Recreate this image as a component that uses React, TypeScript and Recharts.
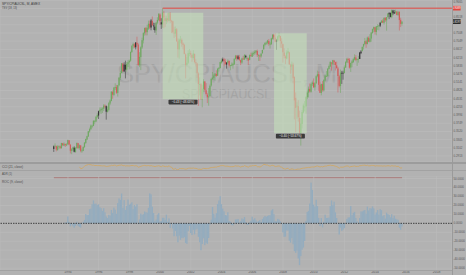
import React from 'react';
import {
  ComposedChart,
  Bar,
  Line,
  XAxis,
  YAxis,
  CartesianGrid,
  ReferenceArea,
  ReferenceLine,
} from 'recharts';

// ---------- data (monthly, first bar = Feb 1993; month index counted from Jan 1993) ----------
const FIRST_MONTH = 1;
const SPY_FIRST_OPEN = 44.0;

const spyClose = [
  44.9, 45.2, 44.0, 45.2, 45.3, 44.8, 46.6, 45.9, 46.6, 46.2, 46.6,
  48.2, 46.7, 44.6, 45.2, 45.9, 44.5, 46.1, 48.0, 46.2, 47.3, 45.4, 45.6,
  47.0, 48.7, 50.2, 51.5, 53.6, 54.6, 56.2, 56.2, 58.4, 58.4, 60.5, 61.5,
  63.6, 64.4, 65.1, 65.5, 67.2, 67.1, 64.3, 65.5, 69.0, 70.6, 75.8, 74.3,
  78.6, 79.1, 75.7, 80.3, 85.1, 88.4, 95.4, 90.0, 94.8, 91.5, 95.7, 97.0,
  98.3, 105.1, 110.3, 111.8, 109.5, 113.6, 112.2, 95.9, 102.2, 110.2, 116.6, 123.3,
  128.5, 124.5, 128.8, 133.8, 130.0, 137.3, 132.9, 132.4, 128.8, 136.8, 139.7, 146.9,
  139.6, 137.4, 150.4, 145.1, 142.0, 145.3, 143.0, 152.1, 143.6, 143.0, 131.5, 131.2,
  136.0, 124.0, 116.7, 125.9, 126.6, 122.9, 121.5, 113.4, 104.4, 106.0, 114.1, 114.3,
  113.0, 110.5, 114.5, 107.7, 106.6, 98.9, 91.2, 91.5, 81.5, 88.6, 93.9, 88.2,
  85.7, 84.1, 84.7, 91.6, 96.4, 97.6, 99.4, 101.4, 99.9, 105.4, 106.3, 111.3,
  113.1, 114.6, 113.1, 110.8, 112.5, 114.5, 110.5, 110.8, 111.7, 113.0, 117.8, 120.9,
  118.2, 120.6, 118.0, 115.8, 119.5, 119.2, 123.5, 122.2, 123.0, 120.9, 125.4, 124.5,
  128.0, 128.2, 129.8, 131.5, 127.5, 128.0, 127.8, 130.5, 133.6, 138.4, 140.5, 141.6,
  144.2, 140.9, 142.0, 148.3, 153.3, 150.4, 145.7, 147.6, 152.6, 154.6, 148.7, 146.2,
  137.4, 133.8, 131.9, 138.3, 140.4, 128.0, 126.8, 128.8, 116.0, 96.8, 89.6, 90.2,
  82.8, 73.9, 79.5, 87.1, 91.9, 91.9, 98.8, 102.5, 105.6, 103.6, 109.9, 111.4,
  107.4, 110.7, 117.0, 118.8, 109.4, 102.9, 110.3, 105.3, 114.1, 118.5, 118.5, 125.8,
  128.7, 133.2, 132.6, 136.5, 134.9, 131.9, 129.2, 121.9, 113.2, 125.5, 124.9, 125.5,
  131.3, 137.0, 140.8, 139.9, 131.5, 136.1, 138.0, 141.2, 144.0, 141.4, 141.9, 142.4,
  149.7, 151.6, 156.7, 159.7, 163.5, 160.4, 168.7, 163.7, 168.0, 175.8, 181.0, 184.7,
  178.2, 186.3, 187.0, 188.3, 192.7, 196.0, 193.1, 200.7, 197.0, 201.7, 207.2, 205.5,
  199.5, 210.7, 206.4, 208.5, 211.1, 205.9, 210.5, 197.7, 191.6, 195.0,
];

const spyHigh = [
  45.2, 46.0, 45.4, 45.6, 45.6, 45.6, 46.7, 46.7, 47.1, 46.8, 47.0,
  48.3, 48.3, 47.0, 45.6, 46.1, 46.4, 46.2, 48.1, 48.1, 47.6, 47.5, 46.3,
  47.2, 48.9, 50.3, 51.7, 53.7, 55.2, 56.6, 56.6, 58.8, 59.0, 60.9, 62.3,
  63.9, 65.6, 65.9, 66.2, 67.9, 67.9, 67.5, 67.1, 69.6, 71.2, 76.2, 76.7,
  79.0, 81.4, 80.4, 80.5, 85.6, 89.6, 95.6, 96.0, 96.6, 98.0, 97.1, 98.6,
  99.1, 105.5, 110.5, 113.1, 113.0, 114.0, 119.1, 113.3, 105.9, 111.1, 118.9, 124.2,
  129.0, 129.5, 131.9, 137.0, 137.2, 138.9, 142.1, 135.8, 136.2, 137.6, 142.6, 147.7,
  148.3, 144.0, 155.7, 152.3, 148.0, 148.3, 151.3, 152.5, 153.3, 144.6, 143.6, 137.4,
  138.6, 137.2, 126.8, 126.9, 130.1, 128.0, 123.9, 122.6, 114.3, 110.8, 116.7, 117.7,
  116.5, 113.2, 117.4, 115.0, 110.1, 107.2, 99.9, 96.3, 92.3, 91.3, 95.5, 94.3,
  93.2, 86.7, 90.4, 92.5, 97.3, 101.8, 101.0, 101.7, 104.3, 106.1, 106.5, 111.6,
  115.0, 116.0, 116.0, 115.3, 113.0, 115.8, 114.9, 111.2, 113.5, 114.0, 118.8, 121.6,
  121.0, 122.0, 122.5, 118.5, 120.3, 121.9, 124.4, 124.5, 124.4, 123.8, 126.1, 127.8,
  129.6, 129.9, 131.3, 132.2, 133.0, 128.6, 128.9, 131.0, 134.0, 139.0, 141.2, 143.0,
  144.8, 146.4, 143.7, 149.0, 153.8, 154.4, 155.5, 149.0, 153.5, 157.5, 155.0, 152.4,
  146.9, 142.0, 135.0, 140.6, 144.0, 141.0, 129.7, 131.8, 130.6, 116.4, 100.9, 92.6,
  94.5, 87.6, 83.0, 88.4, 93.3, 95.9, 99.5, 104.1, 107.4, 110.1, 111.3, 113.0,
  115.1, 111.6, 117.8, 122.1, 121.2, 112.2, 110.6, 113.0, 115.0, 119.5, 122.9, 126.1,
  130.3, 134.1, 133.9, 136.8, 137.2, 135.3, 135.7, 130.8, 123.2, 128.5, 127.4, 127.5,
  133.2, 138.0, 141.9, 142.2, 141.5, 136.6, 139.5, 142.8, 147.2, 146.7, 142.3, 145.6,
  150.4, 153.3, 157.2, 160.1, 167.5, 165.5, 170.0, 170.5, 173.6, 176.6, 181.8, 185.0,
  184.9, 186.6, 189.7, 189.0, 193.2, 196.6, 198.3, 201.0, 201.9, 202.2, 207.8, 209.0,
  206.5, 211.9, 211.9, 212.2, 213.8, 212.3, 212.4, 211.3, 200.8, 195.5,
];

const spyLow = [
  43.0, 44.6, 43.4, 43.7, 44.3, 44.4, 44.6, 45.6, 45.9, 45.6, 46.1,
  46.5, 46.4, 43.7, 43.5, 44.6, 44.3, 44.4, 45.9, 46.0, 45.6, 44.9, 44.8,
  45.5, 46.9, 48.3, 50.0, 51.3, 53.1, 54.4, 55.2, 56.1, 57.1, 58.1, 60.0,
  59.9, 62.7, 62.6, 63.3, 64.4, 65.9, 60.5, 64.0, 64.8, 68.2, 70.4, 72.0,
  73.6, 77.4, 75.1, 73.6, 79.7, 83.8, 88.4, 89.5, 89.8, 85.5, 90.0, 93.5,
  91.9, 97.5, 104.3, 108.0, 108.8, 107.7, 111.1, 95.3, 94.4, 92.5, 109.0, 113.9,
  121.2, 121.5, 121.5, 127.5, 128.5, 127.3, 132.0, 128.5, 126.3, 124.4, 135.1, 140.1,
  135.7, 132.7, 133.9, 133.5, 135.5, 138.9, 140.8, 142.5, 141.0, 130.6, 130.3, 126.2,
  128.1, 123.5, 109.4, 108.7, 123.0, 120.0, 117.3, 113.0, 94.3, 103.4, 105.0, 111.4,
  110.4, 107.1, 109.0, 106.6, 104.2, 95.4, 77.1, 83.8, 81.4, 76.8, 86.6, 87.0,
  84.8, 80.4, 78.9, 84.0, 90.8, 95.8, 96.2, 95.9, 99.2, 99.9, 103.2, 106.0,
  110.5, 112.0, 108.7, 110.3, 107.4, 111.8, 108.8, 106.6, 110.3, 108.9, 112.6, 117.3,
  116.2, 117.6, 116.7, 113.6, 114.7, 118.2, 119.2, 121.1, 120.6, 116.9, 120.6, 124.2,
  124.7, 125.7, 126.7, 128.6, 125.6, 122.2, 122.8, 126.5, 129.6, 133.6, 137.0, 139.2,
  139.9, 139.0, 136.8, 141.0, 147.5, 148.0, 145.0, 137.0, 146.2, 151.0, 141.2, 141.5,
  126.9, 131.5, 126.0, 131.1, 137.7, 127.4, 120.1, 123.4, 111.4, 83.6, 74.3, 81.5,
  80.1, 73.5, 67.1, 76.8, 86.5, 88.6, 86.9, 97.4, 98.8, 102.8, 102.9, 108.5,
  107.2, 104.6, 111.2, 116.0, 104.4, 102.8, 101.1, 104.1, 104.5, 113.2, 117.4, 118.8,
  125.6, 128.1, 125.3, 131.0, 132.3, 126.5, 128.5, 107.4, 112.0, 107.4, 115.2, 119.0,
  126.4, 131.9, 136.4, 136.4, 130.6, 127.1, 131.9, 137.0, 140.4, 140.0, 134.6, 138.2,
  145.0, 148.7, 151.9, 153.1, 158.4, 155.7, 160.6, 163.1, 163.0, 163.9, 174.8, 177.3,
  174.6, 173.7, 181.5, 181.3, 186.3, 192.4, 192.8, 190.4, 194.6, 181.9, 200.5, 197.9,
  198.6, 197.8, 203.3, 205.8, 206.6, 205.4, 204.1, 182.4, 187.0, 189.1,
];

const cpi = [
  143.1, 143.3, 143.8, 144.2, 144.3, 144.5, 144.8, 145.0, 145.6, 146.0, 146.3,
  146.3, 146.7, 147.1, 147.2, 147.5, 147.9, 148.4, 149.0, 149.3, 149.4, 149.8, 150.1,
  150.5, 150.9, 151.2, 151.8, 152.1, 152.4, 152.6, 152.9, 153.1, 153.5, 153.7, 153.9,
  154.7, 155.0, 155.5, 156.1, 156.4, 156.7, 157.0, 157.2, 157.7, 158.2, 158.7, 159.1,
  159.4, 159.7, 159.8, 159.9, 159.9, 160.2, 160.4, 160.8, 161.2, 161.5, 161.7, 161.8,
  162.0, 162.0, 162.0, 162.2, 162.6, 162.8, 163.2, 163.4, 163.5, 163.9, 164.1, 164.4,
  164.7, 164.7, 164.8, 165.9, 166.0, 166.0, 166.7, 167.1, 167.9, 168.2, 168.3, 168.8,
  169.8, 171.2, 171.3, 171.5, 172.4, 172.8, 172.8, 173.7, 174.0, 174.1, 174.0, 174.6,
  175.6, 176.0, 176.1, 176.4, 177.3, 177.7, 177.4, 177.4, 178.1, 177.6, 177.5, 177.4,
  177.7, 178.0, 178.5, 179.3, 179.5, 179.6, 180.0, 180.5, 180.8, 181.2, 181.5, 181.8,
  182.6, 183.6, 183.9, 183.2, 182.9, 183.1, 183.7, 184.5, 185.1, 184.9, 185.0, 185.5,
  186.3, 186.7, 187.1, 187.4, 188.2, 188.9, 189.1, 189.2, 189.8, 190.8, 191.7, 191.7,
  191.6, 192.4, 193.1, 193.7, 193.6, 193.7, 194.9, 196.1, 198.8, 199.1, 198.1, 198.1,
  199.3, 199.4, 199.7, 200.7, 201.3, 201.8, 202.9, 203.8, 202.8, 201.9, 202.0, 203.1,
  203.4, 204.2, 205.3, 205.9, 206.8, 207.2, 207.6, 207.7, 208.5, 209.2, 210.8, 211.4,
  212.2, 212.7, 213.4, 214.0, 215.1, 217.0, 218.9, 218.7, 218.8, 216.6, 212.4, 210.2,
  211.1, 212.2, 212.7, 213.2, 213.9, 215.7, 215.4, 215.8, 216.0, 216.4, 217.0, 217.2,
  217.5, 217.3, 217.4, 217.3, 217.2, 217.2, 217.6, 217.9, 218.3, 219.0, 219.5, 220.4,
  221.2, 221.9, 223.0, 224.1, 224.8, 224.8, 225.4, 226.1, 226.6, 226.8, 227.1, 227.0,
  227.8, 228.3, 228.8, 229.2, 228.7, 228.5, 228.6, 229.9, 231.0, 231.6, 231.1, 231.2,
  231.7, 232.9, 232.3, 231.6, 231.8, 232.4, 232.8, 233.1, 233.4, 233.5, 234.0, 234.7,
  235.3, 235.5, 236.0, 236.5, 237.0, 237.4, 237.6, 237.7, 237.9, 238.0, 237.5, 236.9,
  234.7, 235.2, 236.1, 236.6, 237.8, 238.6, 238.7, 238.3, 237.9, 237.9,
];

// months drawn with dark bars in the reference
const blackMonths = [1, 17, 36, 42, 56, 57, 65, 77, 79, 80, 85, 133, 136, 145, 151, 175, 226, 227, 240, 241, 256, 263, 264, 266, 267];

// axis ticks
const yearTicks = [12, 36, 60, 84, 108, 132, 156, 180, 204, 228, 252, 276, 300];
const yearLabels = ['1994', '1996', '1998', '2000', '2002', '2004', '2006', '2008', '2010', '2012', '2014', '2016', '2018'];
const priceTicks = [0.9665, 0.9074, 0.8518, 0.7997, 0.7508, 0.7049, 0.6617, 0.6213, 0.5833, 0.5476, 0.5141, 0.4826, 0.4531, 0.4253, 0.3994, 0.3749, 0.352, 0.3305, 0.3102, 0.2913];
const hiddenPriceTicks = [0.9074, 0.7997];
const rocTicks = [50, 40, 30, 20, 10, 0, -10, -20, -30, -40, -50];

// drawdown boxes (month index, price)
const ddStart = [86, 173];
const ddEnd = [117.7, 198.5];
const ddTop = [0.878, 0.749];
const ddBottom = [0.451, 0.347];
const ddLabels = ['\u22120.43 (\u221248.63%)', '\u22120.40 (\u221253.67%)'];

const athMonth = 86;
const athLevel = 0.9089;

const adrMonths = [1, 273];
const adrValues = [1, 1];

// ---------- derived rows ----------
const closes = spyClose.map((c, i) => c / cpi[i]);
const rows = spyClose.map((c, i) => {
  const k = cpi[i];
  const m = FIRST_MONTH + i;
  const o = (i === 0 ? SPY_FIRST_OPEN : spyClose[i - 1]) / k;
  const h = spyHigh[i] / k;
  const l = spyLow[i] / k;
  const cl = c / k;
  const roc = i >= 9 ? 100 * (cl / closes[i - 9] - 1) : null;
  let cci: number | null = null;
  if (i >= 20) {
    const win = closes.slice(i - 20, i + 1);
    const sma = win.reduce((a, b) => a + b, 0) / 21;
    const md = win.reduce((a, b) => a + Math.abs(b - sma), 0) / 21;
    cci = md === 0 ? 0 : (cl - sma) / (0.015 * md);
  }
  return {
    m,
    o,
    h: Math.max(h, o, cl),
    l: Math.min(l, o, cl),
    c: cl,
    range: [Math.min(l, o, cl), Math.max(h, o, cl)],
    roc,
    cci,
    black: blackMonths.includes(m),
  };
});
const cciRows = rows.filter((r) => r.cci !== null).map((r) => ({ m: r.m, cci: r.cci as number }));
const adrRows = adrMonths.map((m, i) => ({ m, adr: adrValues[i] }));
const lastClose = closes[closes.length - 1];

// ---------- style ----------
const W = 466;
const AXIS_W = 14;
const BG = '#b2b2b2';
const GRID = '#bcbcbc';
const GREEN = '#6fa862';
const RED = '#d35c5b';
const BLACK = '#363636';
const FONT = 'Liberation Sans, Arial, sans-serif';
const X_DOMAIN: [number, number] = [-41.1, 312];
const PRICE_DOMAIN: [number, number] = [0.2781, 0.968];
const ROC_DOMAIN: [number, number] = [-52.1, 52.8];
const CCI_DOMAIN: [number, number] = [-280, 280];
const M0 = { top: 0, right: 0, bottom: 0, left: 0 };

function Candle(props: any) {
  const { x, y, width, height, payload } = props;
  if (!payload || !isFinite(y) || !isFinite(height)) return <g />;
  const cx = x + width / 2;
  const top = Math.min(y, y + height);
  const bot = Math.max(y, y + height);
  const lh = Math.log(payload.h);
  const ll = Math.log(payload.l);
  const span = lh - ll || 1;
  const pos = (v: number) => top + ((lh - Math.log(v)) / span) * (bot - top);
  const yo = pos(payload.o);
  const yc = pos(payload.c);
  const color = payload.black ? BLACK : payload.c >= payload.o ? GREEN : RED;
  const bt = Math.min(yo, yc);
  const bh = Math.max(Math.abs(yo - yc), 0.8);
  return (
    <g>
      <line x1={cx} x2={cx} y1={top} y2={bot} stroke={color} strokeWidth={0.55} />
      <rect x={cx - 0.6} y={bt} width={1.2} height={bh} fill={color} />
    </g>
  );
}

function RocBar(props: any) {
  const { x, y, width, height } = props;
  if (!isFinite(y) || !isFinite(height)) return <g />;
  const cx = x + width / 2;
  const top = Math.min(y, y + height);
  const h = Math.abs(height);
  return <rect x={cx - 0.68} y={top} width={1.36} height={Math.max(h, 0.3)} fill="#94acbe" />;
}

function PriceTick(props: any) {
  const { x, y, payload } = props;
  const v = payload.value;
  if (hiddenPriceTicks.some((h) => Math.abs(h - v) < 1e-6)) return <g />;
  return (
    <text x={x + 1.5} y={Math.max(y, 2.2) + 1} fontSize={2.9} fill="#5a5a5a" fontFamily={FONT}>
      {v.toFixed(4)}
    </text>
  );
}

function RocTick(props: any) {
  const { x, y, payload } = props;
  return (
    <text x={x + 1.5} y={y + 1} fontSize={2.9} fill="#5a5a5a" fontFamily={FONT}>
      {payload.value.toFixed(4)}
    </text>
  );
}

function YearTick(props: any) {
  const { x, y, payload } = props;
  const idx = yearTicks.indexOf(payload.value);
  return (
    <text x={x} y={y + 3.4} fontSize={3.4} textAnchor="middle" fill="#5a5a5a" fontFamily={FONT}>
      {yearLabels[idx]}
    </text>
  );
}

function DdLabel(props: any) {
  const { viewBox, text } = props;
  if (!viewBox) return null;
  const { x, y, width, height } = viewBox;
  const cx = x + width / 2;
  const by = y + height + 0.6;
  return (
    <g>
      <rect x={cx - 14.5} y={by} width={29} height={4.6} rx={0.8} fill="#3b3b3b" />
      <text x={cx} y={by + 3.3} textAnchor="middle" fontSize={3} fill="#f2f2f2" fontFamily={FONT}>
        {text}
      </text>
    </g>
  );
}

function AxisTag(props: any) {
  const { viewBox, text, bg } = props;
  if (!viewBox) return null;
  const x = viewBox.x + viewBox.width;
  const y = viewBox.y;
  return (
    <g>
      <rect x={x} y={y - 2.3} width={8.6} height={4.6} fill={bg} />
      <text x={x + 4.3} y={y + 1} textAnchor="middle" fontSize={2.7} fill="#ffffff" fontFamily={FONT}>
        {text}
      </text>
    </g>
  );
}

const abs = (top: number, h: number): React.CSSProperties => ({ position: 'absolute', left: 0, top, width: W, height: h });

export default function App() {
  return (
    <div style={{ position: 'absolute', left: 0, top: 0, width: W, height: 275, background: BG, overflow: 'hidden', fontFamily: FONT }}>
      {/* watermark */}
      <svg style={{ position: 'absolute', left: 0, top: 0 }} width={W} height={275}>
        <text x={117} y={83} fontSize={28} textLength={220} lengthAdjust="spacingAndGlyphs" fill="#a4a4a4" fontFamily={FONT}>
          SPY/CPIAUCSL, M
        </text>
        <text x={182} y={99} fontSize={15} textLength={89} lengthAdjust="spacingAndGlyphs" fill="#a4a4a4" fontFamily={FONT}>
          SPY/CPIAUCSL
        </text>
      </svg>

      {/* main price pane */}
      <div style={abs(0, 162)}>
        <ComposedChart width={W} height={162} data={rows} margin={M0}>
          <CartesianGrid stroke={GRID} strokeWidth={0.6} />
          <XAxis dataKey="m" type="number" domain={X_DOMAIN} ticks={yearTicks} allowDataOverflow hide />
          <YAxis
            orientation="right"
            type="number"
            scale="log"
            domain={PRICE_DOMAIN}
            ticks={priceTicks}
            interval={0}
            allowDataOverflow
            width={AXIS_W}
            axisLine={false}
            tickLine={false}
            tickSize={0}
            tickMargin={0}
            tick={<PriceTick />}
          />
          <Bar dataKey="range" shape={Candle} barSize={1} isAnimationActive={false} />
        </ComposedChart>
      </div>

      {/* overlay: drawdown boxes, all-time-high line, axis tags */}
      <div style={abs(0, 162)}>
        <ComposedChart width={W} height={162} data={rows} margin={M0}>
          <XAxis dataKey="m" type="number" domain={X_DOMAIN} allowDataOverflow hide />
          <YAxis orientation="right" type="number" scale="log" domain={PRICE_DOMAIN} allowDataOverflow width={AXIS_W} axisLine={false} tickLine={false} tick={false} />
          {ddStart.map((s, i) => (
            <ReferenceArea
              key={i}
              x1={s}
              x2={ddEnd[i]}
              y1={ddBottom[i]}
              y2={ddTop[i]}
              fill="#c6e3bc"
              fillOpacity={0.55}
              stroke="none"
              label={<DdLabel text={ddLabels[i]} />}
            />
          ))}
          <ReferenceLine
            segment={[
              { x: athMonth, y: athLevel },
              { x: X_DOMAIN[1], y: athLevel },
            ]}
            stroke="#e0463f"
            strokeWidth={1}
          />
          <ReferenceLine y={athLevel} stroke="none" label={<AxisTag text={athLevel.toFixed(4)} bg="#e0463f" />} />
          <ReferenceLine y={lastClose} stroke="none" label={<AxisTag text={lastClose.toFixed(4)} bg="#1e1e1e" />} />
        </ComposedChart>
      </div>

      {/* CCI pane */}
      <div style={abs(163.5, 6.5)}>
        <ComposedChart width={W} height={6.5} data={cciRows} margin={M0}>
          <XAxis dataKey="m" type="number" domain={X_DOMAIN} allowDataOverflow hide />
          <YAxis orientation="right" type="number" domain={CCI_DOMAIN} allowDataOverflow width={AXIS_W} axisLine={false} tickLine={false} tick={false} />
          <Line type="linear" dataKey="cci" stroke="#d2a65e" strokeWidth={0.8} dot={false} isAnimationActive={false} />
        </ComposedChart>
      </div>

      {/* ADR pane */}
      <div style={abs(170.5, 8)}>
        <ComposedChart width={W} height={8} data={adrRows} margin={M0}>
          <XAxis dataKey="m" type="number" domain={X_DOMAIN} allowDataOverflow hide />
          <YAxis orientation="right" type="number" domain={[0, 7.5]} width={AXIS_W} axisLine={false} tickLine={false} tick={false} />
          <Line type="linear" dataKey="adr" stroke="#a4524f" strokeWidth={0.8} dot={false} isAnimationActive={false} />
        </ComposedChart>
      </div>

      {/* ROC pane with time axis */}
      <div style={abs(176, 99)}>
        <ComposedChart width={W} height={99} data={rows} margin={M0}>
          <CartesianGrid stroke={GRID} strokeWidth={0.6} />
          <XAxis
            dataKey="m"
            type="number"
            domain={X_DOMAIN}
            ticks={yearTicks}
            interval={0}
            allowDataOverflow
            height={5}
            axisLine={false}
            tickLine={false}
            tickSize={0}
            tickMargin={0}
            tick={<YearTick />}
          />
          <YAxis
            orientation="right"
            domain={ROC_DOMAIN}
            ticks={rocTicks}
            interval={0}
            allowDataOverflow
            width={AXIS_W}
            axisLine={false}
            tickLine={false}
            tickSize={0}
            tickMargin={0}
            tick={<RocTick />}
          />
          <Bar dataKey="roc" shape={RocBar} barSize={1} isAnimationActive={false} />
          <ReferenceLine y={0} stroke="#1f1f1f" strokeWidth={0.8} strokeDasharray="1.5 1" />
        </ComposedChart>
      </div>

      {/* pane separators and price-axis border */}
      <div style={{ position: 'absolute', left: 0, top: 162, width: W, height: 1.5, background: '#9c9c9c' }} />
      <div style={{ position: 'absolute', left: 0, top: 170, width: W, height: 1, background: '#a2a2a2' }} />
      <div style={{ position: 'absolute', left: 0, top: 270, width: 452, height: 0.8, background: '#a2a2a2' }} />
      <div style={{ position: 'absolute', left: 451.5, top: 0, width: 0.9, height: 275, background: '#9a9a9a' }} />

      {/* legends */}
      <svg style={{ position: 'absolute', left: 0, top: 0 }} width={W} height={275}>
        <text x={2} y={5.2} fontSize={3.4} textLength={38} lengthAdjust="spacingAndGlyphs" fill="#3a3a3a" fontFamily={FONT}>
          SPY/CPIAUCSL, M, AMEX
        </text>
        <text x={2} y={9.4} fontSize={3.2} textLength={15} lengthAdjust="spacingAndGlyphs" fill="#4a4a4a" fontFamily={FONT}>
          TSV (18, 13)
        </text>
        <text x={2} y={167.9} fontSize={3.2} textLength={21} lengthAdjust="spacingAndGlyphs" fill="#4a4a4a" fontFamily={FONT}>
          CCI (21, close)
        </text>
        <text x={2} y={175.2} fontSize={3.2} textLength={10} lengthAdjust="spacingAndGlyphs" fill="#4a4a4a" fontFamily={FONT}>
          ADR (1)
        </text>
        <text x={2} y={183} fontSize={3.2} textLength={21} lengthAdjust="spacingAndGlyphs" fill="#4a4a4a" fontFamily={FONT}>
          ROC (9, close)
        </text>
      </svg>
    </div>
  );
}
